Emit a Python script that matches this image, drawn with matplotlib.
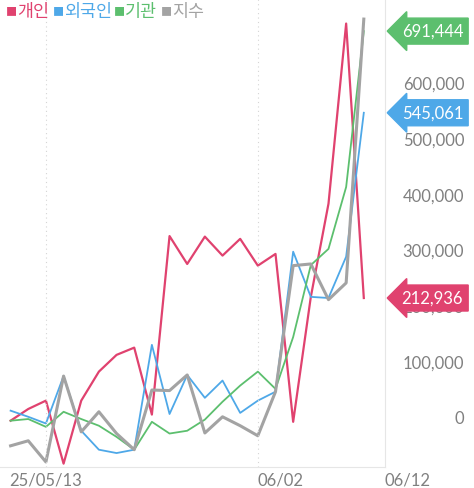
import matplotlib
matplotlib.use("Agg")
import matplotlib.pyplot as plt

plt.rcParams['font.family'] = ['Lato', 'Noto Sans CJK KR', 'DejaVu Sans']

# values (21 trading days)
individual = [-7000, 14000, 29000, -84000, 29000, 81000, 111000, 124000, 4000, 324000, 274000,
              323000, 289000, 319000, 271000, 292000, -9000, 215000, 382000, 705000, 212936]
foreign = [11000, 0, -12000, 73000, -25000, -59000, -65000, -59000, 129000, 5000, 75000,
           34000, 65000, 7000, 29000, 45000, 296000, 215000, 213000, 287000, 545061]
institution = [-7000, -4000, -18000, 9000, -4000, -16000, -36000, -59000, -9000, -30000, -25000,
               -5000, 27000, 56000, 81000, 50000, 143000, 272000, 301000, 412000, 691444]
index_line = [-52000, -43000, -81000, 73000, -27000, 9000, -30000, -59000, 48000, 47000, 75000,
              -29000, 0, -16000, -34000, 45000, 271000, 274000, 210000, 240000, 713000]
yticks = [0, 100000, 200000, 300000, 400000, 500000, 600000]
xtick_pos = [2, 14, 21.2]
xtick_labels = ['25/05/13', '06/02', '06/12']

pink, blue, green, gray = '#e0426f', '#4ea8e8', '#5cbf6e', '#a3a3a3'

fig = plt.figure(figsize=(4.74, 4.89), dpi=100)
ax = fig.add_axes([0, 21 / 489, 385 / 474, 468 / 489])
x = list(range(len(individual)))
ax.plot(x, individual, color=pink, lw=1.6)
ax.plot(x, foreign, color=blue, lw=1.3)
ax.plot(x, institution, color=green, lw=1.3)
ax.plot(x, index_line, color=gray, lw=2.2)

ax.set_xlim(-0.6, 21.2)
ax.set_ylim(-90000, 749000)
for s in ['top', 'left']:
    ax.spines[s].set_visible(False)
ax.spines['bottom'].set_color('#e6e6e6')
ax.spines['right'].set_color('#e6e6e6')
for xv in [2, 14]:
    ax.axvline(xv, color='#d5d5d5', ls=(0, (1, 3)), lw=0.8)

ax.yaxis.tick_right()
ax.set_yticks(yticks)
ax.set_yticklabels([f'{v:,}' for v in yticks], color='#808080', fontsize=12, ha='right')
ax.tick_params(axis='y', length=0, pad=57)
ax.set_xticks(xtick_pos)
ax.set_xticklabels(xtick_labels, color='#808080', fontsize=12)
ax.tick_params(axis='x', length=0, pad=3)
ax.get_xticklabels()[0].set_ha('center')
ax.get_xticklabels()[0].set_x(0.9)
for t in ax.get_xticklabels()[1:]:
    t.set_ha('left')

# end-value callouts
for val, col in [(institution[-1], green), (foreign[-1], blue), (individual[-1], pink)]:
    ax.annotate(f'{val:,}', xy=(1.0, val), xycoords=('axes fraction', 'data'),
                xytext=(12, 0), textcoords='offset points', va='center', ha='left',
                color='white', fontsize=12,
                bbox=dict(boxstyle='larrow,pad=0.3', fc=col, ec=col))

# legend
items = [('개인', pink), ('외국인', blue), ('기관', green), ('지수', gray)]
xpos = 6
for name, col in items:
    fig.text(xpos / 474, 1 - 12 / 489, '■', color=col, fontsize=8, va='center')
    fig.text((xpos + 11) / 474, 1 - 12 / 489, name, color=col, fontsize=12.5, va='center')
    xpos += 19 + 14 * len(name)

fig.savefig('out.png', dpi=100)
